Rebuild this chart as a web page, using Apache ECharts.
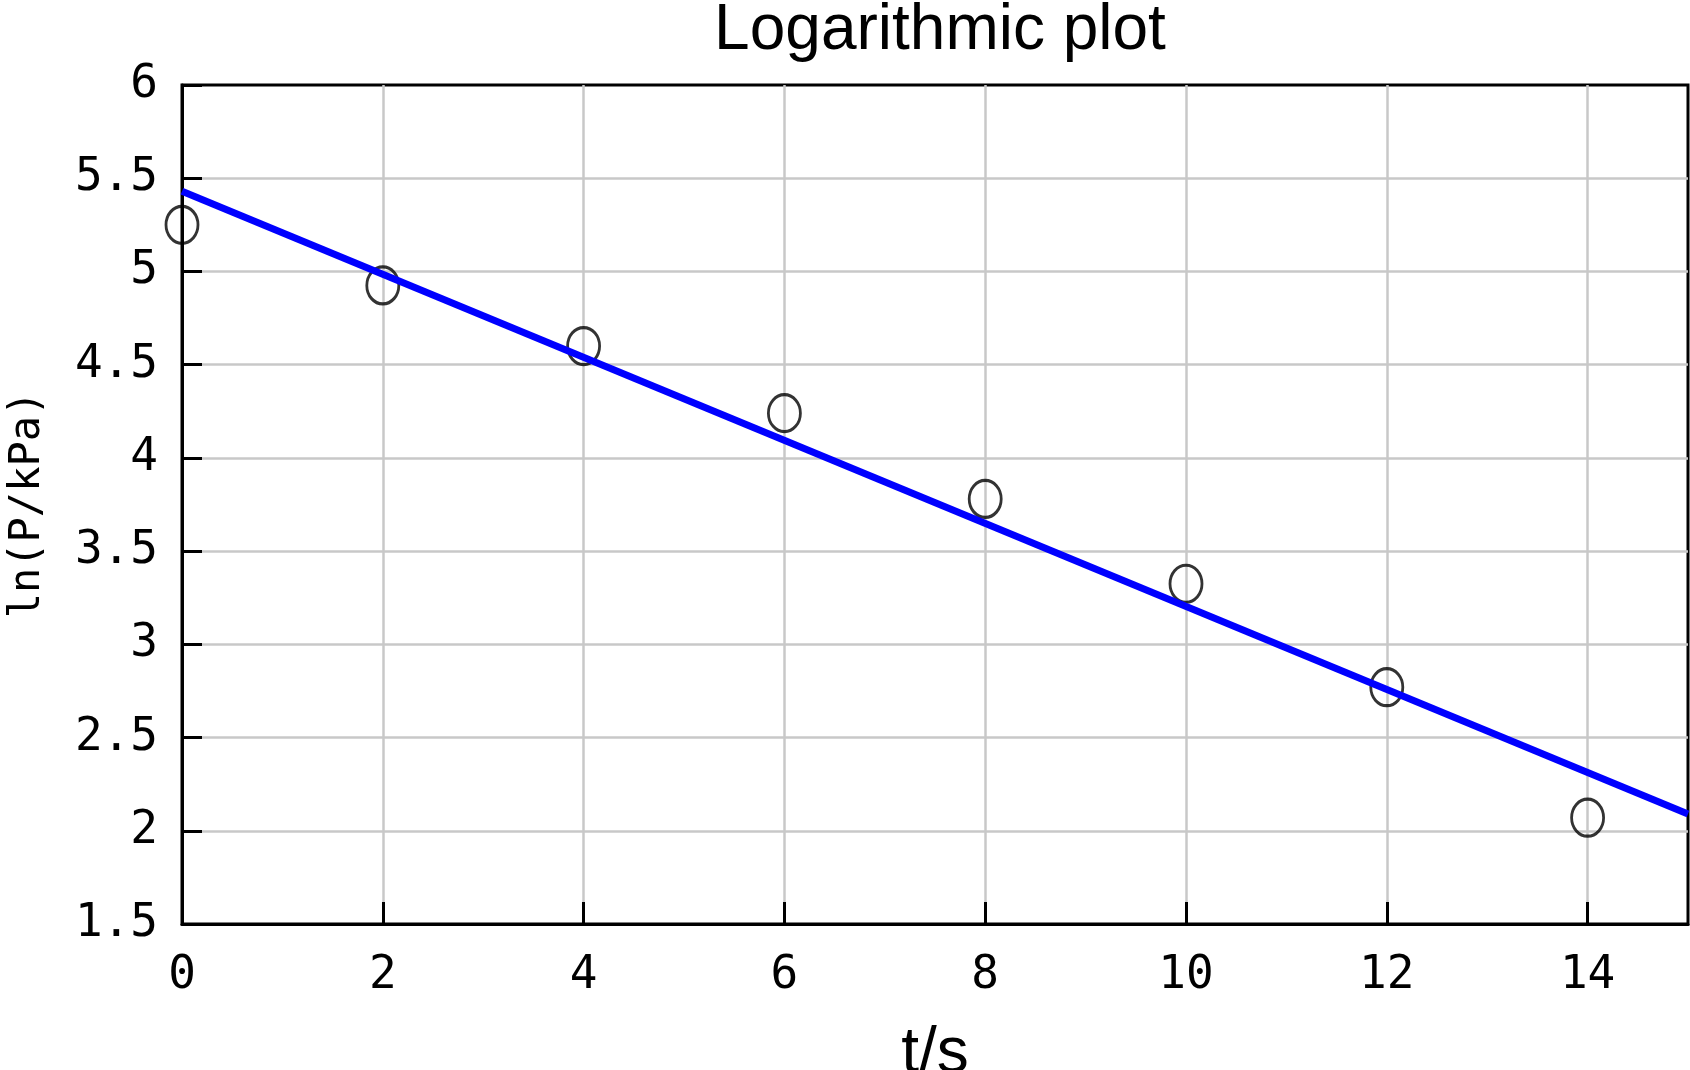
<!DOCTYPE html>
<html>
<head>
<meta charset="utf-8">
<script src="https://cdn.jsdelivr.net/npm/echarts@6/dist/echarts.min.js"></script>
<style>
html,body{margin:0;padding:0;background:#fff;}
#chart{width:1690px;height:1070px;}
</style>
</head>
<body>
<div id="chart"></div>
<script>
// Data
const tValues = [0, 2, 4, 6, 8, 10, 12, 14];
const lnP = [5.25, 4.925, 4.60, 4.24, 3.78, 3.325, 2.77, 2.07];
const fitT = [0, 15];
const fitLnP = [5.43, 2.09];

const titleText = 'Logarithmic plot';
const xName = 't/s';
const yName = 'ln(P/kPa)';

const monoFont = '"DejaVu Sans Mono", "Liberation Mono", monospace';
const narrowFont = '"Liberation Sans Narrow", "Liberation Sans", Arial, sans-serif';

const chart = echarts.init(document.getElementById('chart'), null, {renderer: 'canvas'});
chart.setOption({
  animation: false,
  backgroundColor: '#ffffff',
  title: {
    text: titleText,
    left: 935,
    textAlign: 'center',
    top: -6,
    textStyle: {fontFamily: narrowFont, fontSize: 64, fontWeight: 'normal', color: '#000'}
  },
  grid: {
    left: 182, right: 2, top: 85, bottom: 146,
    containLabel: false,
    outerBoundsMode: 'none',
    show: true, borderColor: '#000', borderWidth: 3, backgroundColor: 'transparent'
  },
  xAxis: {
    type: 'value', min: 0, max: 15, interval: 2,
    name: xName, nameLocation: 'middle', nameGap: 98,
    nameTextStyle: {fontFamily: narrowFont, fontSize: 64, color: '#000'},
    axisLine: {show: true, onZero: false, lineStyle: {color: '#000', width: 3}},
    axisTick: {show: true, inside: true, length: 22, lineStyle: {color: '#000', width: 3}},
    axisLabel: {showMaxLabel: false, margin: 29, fontFamily: monoFont, fontSize: 46, color: '#000'},
    splitLine: {show: true, showMinLine: false, showMaxLine: false, lineStyle: {color: '#c8c8c8', width: 2.5}}
  },
  yAxis: {
    type: 'value', min: 1.5, max: 6, interval: 0.5,
    name: yName, nameLocation: 'middle', nameGap: 133,
    nameTextStyle: {fontFamily: monoFont, fontSize: 42, color: '#000'},
    axisLine: {show: true, onZero: false, lineStyle: {color: '#000', width: 3}},
    axisTick: {show: true, inside: true, length: 20, lineStyle: {color: '#000', width: 3}},
    axisLabel: {margin: 24, fontFamily: monoFont, fontSize: 46, color: '#000'},
    splitLine: {show: true, showMinLine: false, showMaxLine: false, lineStyle: {color: '#c8c8c8', width: 2.5}}
  },
  series: [
    {
      type: 'scatter',
      data: tValues.map((t, i) => [t, lnP[i]]),
      symbol: 'circle',
      symbolSize: [32, 37],
      itemStyle: {color: 'transparent', borderColor: '#000', borderWidth: 3},
      clip: true,
      z: 2
    },
    {
      type: 'line',
      data: fitT.map((t, i) => [t, fitLnP[i]]),
      showSymbol: false,
      lineStyle: {color: '#0000ff', width: 7},
      clip: true,
      z: 3
    }
  ]
});
</script>
</body>
</html>
